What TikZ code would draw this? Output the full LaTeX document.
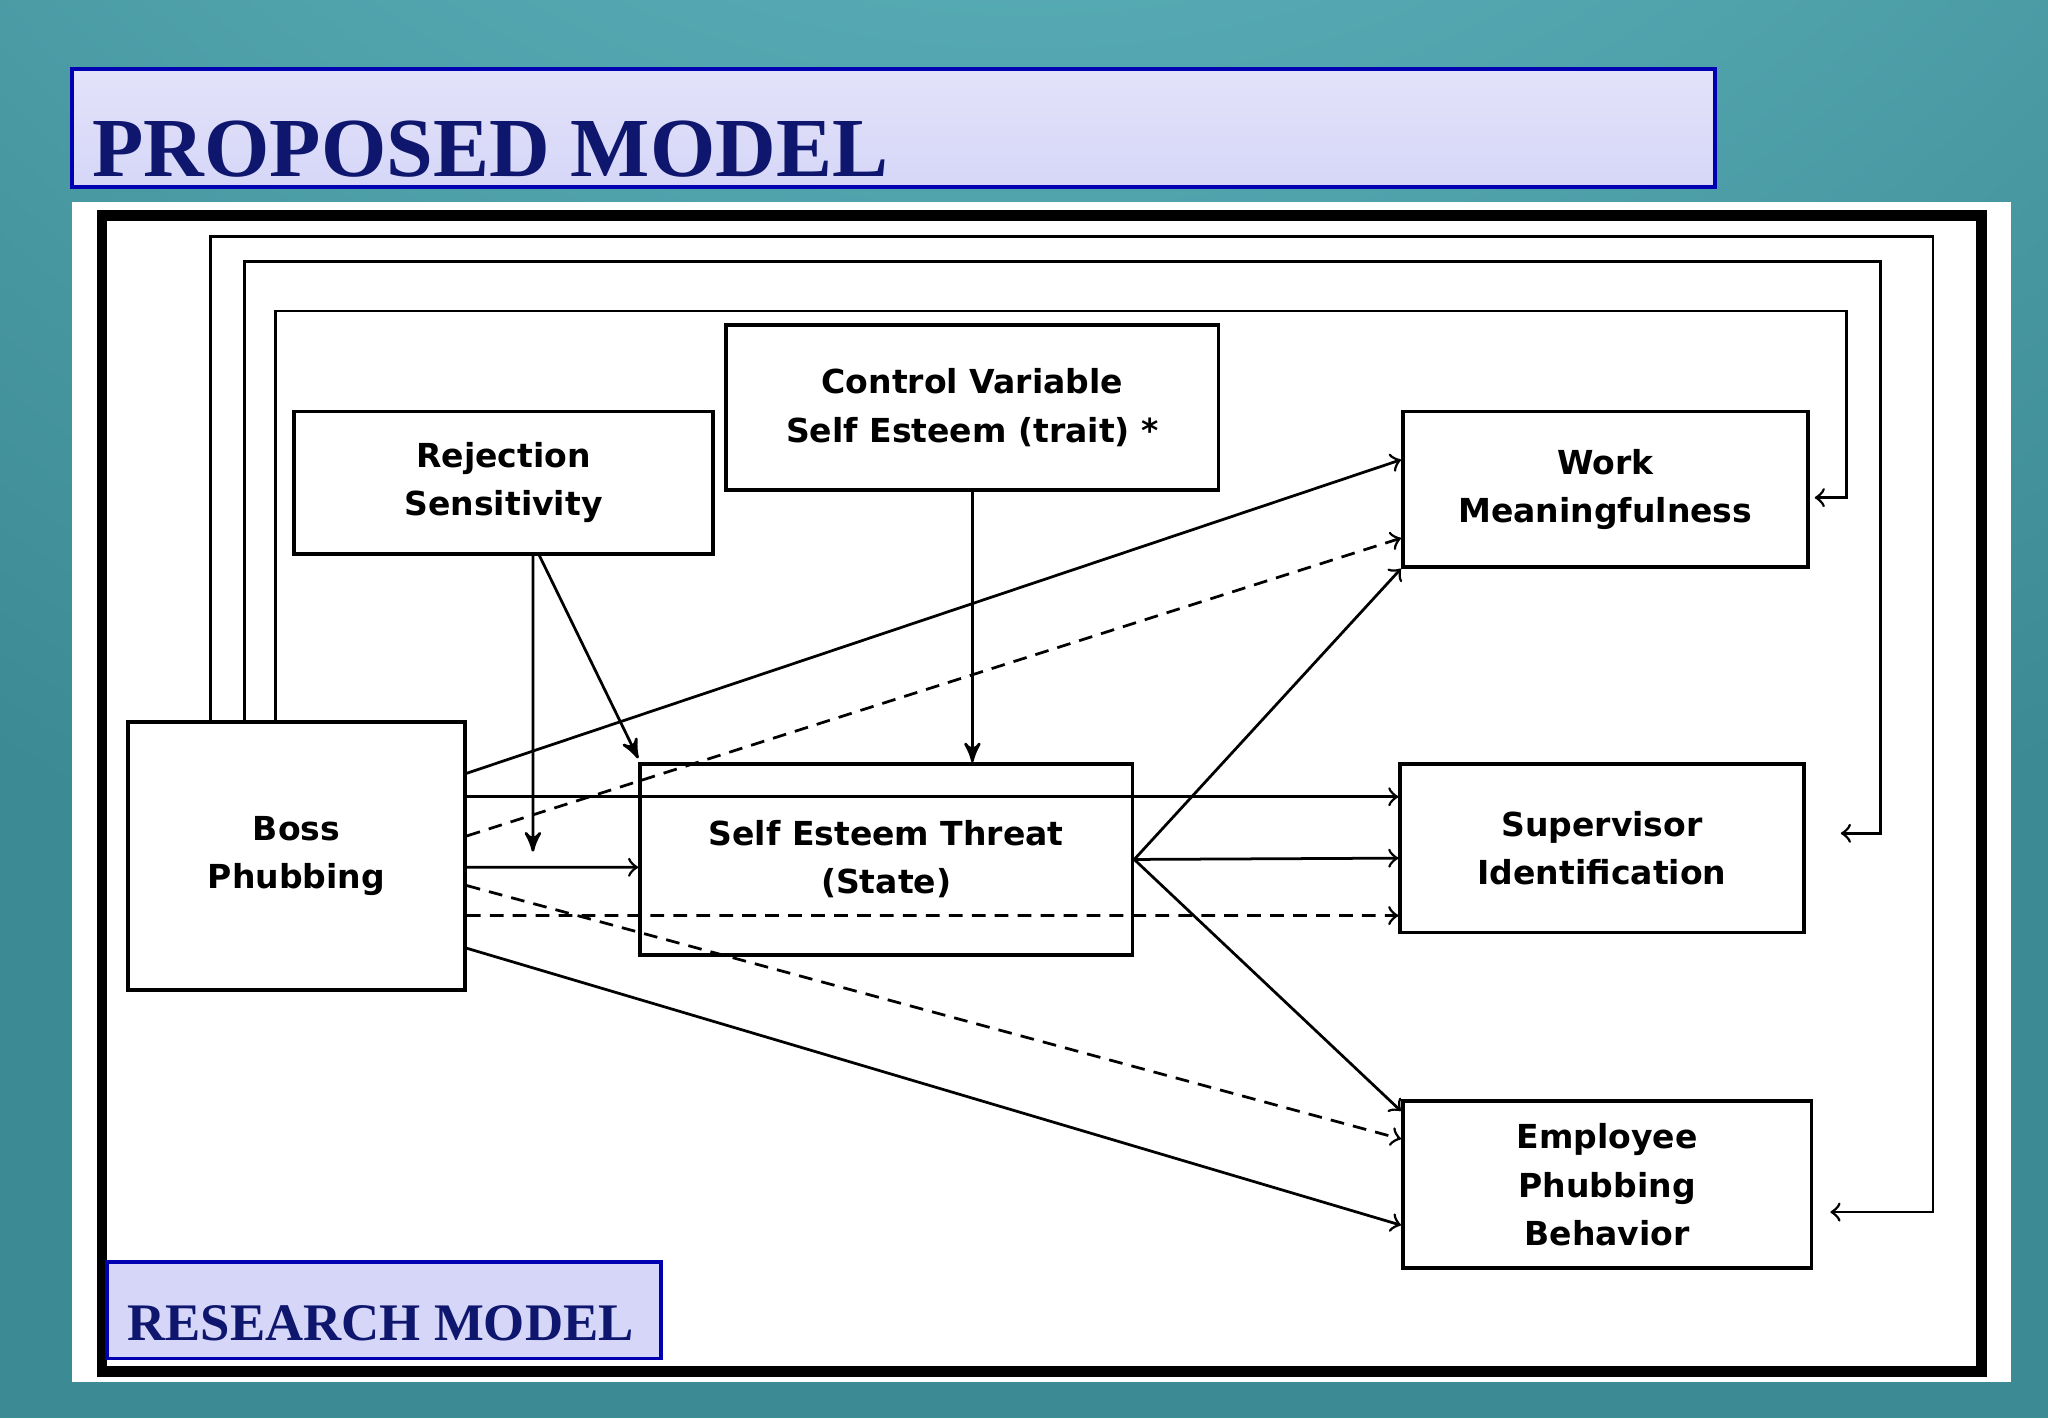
\documentclass[tikz,border=0pt]{standalone}
\usepackage{fontspec}
\setmainfont{Liberation Serif}
\newfontfamily\boxfont{DejaVu Sans}
\usetikzlibrary{arrows}
\definecolor{tealdark}{RGB}{60,138,148}
\definecolor{teallight}{RGB}{108,196,204}
\definecolor{lavender}{RGB}{214,214,248}
\definecolor{navy}{RGB}{14,22,110}

\begin{document}
\begin{tikzpicture}[x=0.1mm,y=-0.1mm,>=to,
    var/.style={draw,thick,fill=white,align=center,inner sep=0pt,
      font=\boxfont\bfseries\fontsize{7.2}{10.5}\selectfont},
    link/.style={->,semithick},
    mod/.style={-stealth',semithick},
    hint/.style={->,semithick,densely dashed},
    back/.style={->,semithick}]
    % background and frames
    \useasboundingbox (0,0) rectangle (1568,1086);
    \fill[tealdark] (0,0) rectangle (1568,1086);
    \shade[inner color=teallight,outer color=tealdark] (784,-700) ellipse (1500 and 1500);
    \draw[blue!70!black,thick,top color=lavender!70,bottom color=lavender] (55,53) rectangle (1313,143);
    \node[anchor=base west,inner sep=0pt,text=navy,font=\bfseries\fontsize{18.3}{22}\selectfont] (title) at (70,135) {PROPOSED MODEL};
    \fill[white] (55,155) rectangle (1540,1058);
    \draw[line width=0.8mm] (78,165) rectangle (1517,1050);

    \node[var,minimum width=25.8mm,minimum height=20.5mm] (boss) at (227,655.5) {Boss\\Phubbing};
    \node[var,minimum width=32.1mm,minimum height=10.9mm] (rej) at (385.5,369.5) {Rejection\\Sensitivity};
    \node[var,minimum width=37.7mm,minimum height=12.6mm] (ctrl) at (744.5,312) {Control Variable\\Self Esteem (trait) *};
    \node[var,minimum width=37.7mm,minimum height=14.6mm] (set) at (678.5,658) {Self Esteem Threat\\(State)};
    \node[var,minimum width=31mm,minimum height=11.9mm] (wm) at (1229,374.5) {Work\\Meaningfulness};
    \node[var,minimum width=30.9mm,minimum height=12.9mm] (si) at (1226.5,649.5) {Supervisor\\Identification};
    \node[var,minimum width=31.3mm,minimum height=12.8mm] (ep) at (1230.5,907) {Employee\\Phubbing\\Behavior};
    \coordinate (mid) at (408,652);

    % direct paths
    \draw[link] ([yshift=6.35mm]boss.east) -- ([yshift=2.25mm]wm.west);
    \draw[hint] ([yshift=1.55mm]boss.east) -- ([yshift=-3.75mm]wm.west);
    \draw[link] ([yshift=4.55mm]boss.east) -- ([yshift=3.95mm]si.west);
    \draw[hint] ([yshift=-4.55mm]boss.east) -- ([yshift=-5.15mm]si.west);
    \draw[link] ([yshift=-7.05mm]boss.east) -- ([yshift=-3.1mm]ep.west);
    \draw[hint] ([yshift=-2.25mm]boss.east) -- ([yshift=3.5mm]ep.west);
    \draw[link] ([yshift=-0.85mm]boss.east) -- ([yshift=-0.6mm]set.west);
    % mediator paths
    \draw[link] (set.east) -- (wm.south west);
    \draw[link] (set.east) -- ([yshift=-0.75mm]si.west);
    \draw[link] (set.east) -- ([yshift=-0.9mm]ep.north west);
    % moderators
    \draw[mod] ([xshift=2.25mm]rej.south) -- (mid);
    \draw[mod] ([xshift=2.75mm]rej.south) -- ([yshift=0.3mm]set.north west);
    \draw[mod] (ctrl.south) -- (ctrl.south |- set.north);
    % feedback loops
    \draw[back] ([xshift=-6.6mm]boss.north) |- (1480,181) |- ([shift={(1.3mm,-2.1mm)}]ep.east);
    \draw[back] ([xshift=-4mm]boss.north) |- (1440,200) |- ([shift={(2.7mm,1.15mm)}]si.east);
    \draw[back] ([xshift=-1.6mm]boss.north) |- (1414,238) |- ([shift={(0.4mm,-0.65mm)}]wm.east);

    \draw[blue!70!black,thick,fill=lavender] (82,966) rectangle (506,1040);
    \node[anchor=base west,inner sep=0pt,text=navy,font=\bfseries\fontsize{11.5}{14}\selectfont] (rm) at (97,1026) {RESEARCH MODEL};
\end{tikzpicture}
\end{document}
